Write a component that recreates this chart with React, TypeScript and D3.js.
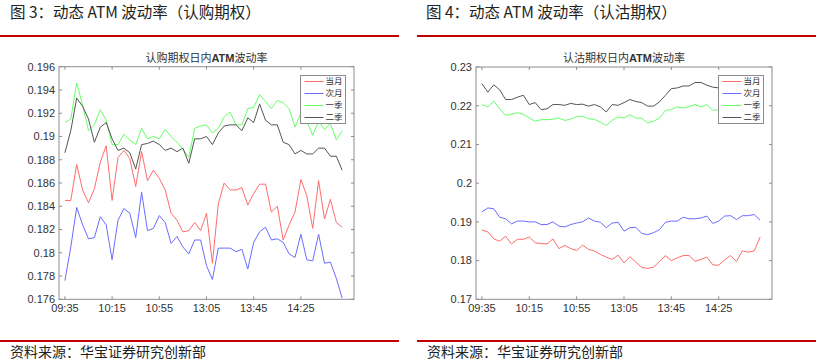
import React from "react";
import * as d3 from "d3";

const timeLabels = ["09:35", "10:15", "10:55", "13:05", "13:45", "14:25"];
const timeTickIdx = [0, 8, 16, 24, 32, 40];
const seriesNames = ["当月", "次月", "一季", "二季"];
const seriesColors = ["#ff6b6b", "#6b6bff", "#66ff66", "#555555"];

const callCur = [0.1845, 0.1845, 0.1876, 0.1854, 0.1843, 0.1855, 0.1878, 0.1892, 0.1845, 0.1882, 0.1888, 0.1881, 0.1857, 0.1887, 0.1862, 0.1871, 0.1864, 0.1854, 0.1834, 0.1828, 0.1818, 0.1819, 0.1826, 0.1819, 0.1834, 0.1791, 0.1842, 0.186, 0.1854, 0.1854, 0.1856, 0.1841, 0.1851, 0.1859, 0.1859, 0.1835, 0.184, 0.1811, 0.1824, 0.1835, 0.1863, 0.1849, 0.1821, 0.1862, 0.1829, 0.1846, 0.1826, 0.1822];
const callNext = [0.1776, 0.1805, 0.1839, 0.1824, 0.1812, 0.1813, 0.1831, 0.1824, 0.1794, 0.1828, 0.1838, 0.1834, 0.1813, 0.1852, 0.1819, 0.1821, 0.1832, 0.1826, 0.1808, 0.1814, 0.1805, 0.1799, 0.1811, 0.1811, 0.1789, 0.1777, 0.1804, 0.1804, 0.1804, 0.1801, 0.1803, 0.1786, 0.1809, 0.1818, 0.1822, 0.1811, 0.1812, 0.1809, 0.1799, 0.1796, 0.1816, 0.1794, 0.1793, 0.1816, 0.1791, 0.1792, 0.1778, 0.1761];
const callQ1 = [0.1912, 0.1915, 0.1946, 0.1927, 0.1905, 0.191, 0.1923, 0.1914, 0.1893, 0.1893, 0.1902, 0.1897, 0.1893, 0.1907, 0.1898, 0.19, 0.1898, 0.1906, 0.19, 0.1895, 0.1889, 0.1882, 0.1907, 0.1909, 0.191, 0.1903, 0.1907, 0.1917, 0.1921, 0.191, 0.191, 0.1924, 0.1925, 0.1936, 0.193, 0.1924, 0.1931, 0.1929, 0.1924, 0.1908, 0.192, 0.1913, 0.1901, 0.1913, 0.1906, 0.1911, 0.1897, 0.1905];
const callQ2 = [0.1886, 0.1905, 0.1933, 0.1926, 0.1915, 0.1895, 0.1908, 0.1912, 0.1898, 0.1888, 0.189, 0.1886, 0.1872, 0.1893, 0.1894, 0.1896, 0.1893, 0.1888, 0.189, 0.1887, 0.189, 0.1877, 0.1898, 0.1898, 0.19, 0.1893, 0.1903, 0.1909, 0.191, 0.191, 0.1905, 0.1916, 0.1912, 0.1928, 0.1914, 0.191, 0.191, 0.1895, 0.1893, 0.1885, 0.1888, 0.1885, 0.1885, 0.189, 0.189, 0.1883, 0.1883, 0.1871];

const putCur = [0.1879, 0.1874, 0.1856, 0.185, 0.1863, 0.1843, 0.1855, 0.1855, 0.1861, 0.1846, 0.1844, 0.1843, 0.1856, 0.1831, 0.1839, 0.1831, 0.1826, 0.184, 0.1829, 0.1825, 0.1816, 0.1809, 0.1803, 0.1814, 0.1794, 0.181, 0.1796, 0.1782, 0.178, 0.1783, 0.1798, 0.1813, 0.18, 0.1807, 0.1813, 0.1813, 0.1798, 0.1803, 0.1809, 0.1789, 0.1788, 0.1802, 0.1813, 0.1798, 0.1825, 0.1822, 0.1825, 0.1861];
const putNext = [0.1926, 0.1936, 0.1934, 0.1912, 0.1908, 0.1895, 0.1902, 0.1902, 0.19, 0.19, 0.1893, 0.1893, 0.19, 0.1889, 0.1887, 0.1893, 0.1897, 0.19, 0.191, 0.1902, 0.1899, 0.1885, 0.1897, 0.1899, 0.1876, 0.1885, 0.1886, 0.187, 0.1867, 0.1872, 0.188, 0.1899, 0.1902, 0.1902, 0.1912, 0.1908, 0.1908, 0.191, 0.1915, 0.1896, 0.1902, 0.1915, 0.1916, 0.1906, 0.1916, 0.1916, 0.1919, 0.1904];
const putQ1 = [0.2203, 0.2197, 0.2212, 0.2192, 0.2175, 0.2178, 0.2182, 0.2178, 0.2168, 0.216, 0.2164, 0.2164, 0.2165, 0.2168, 0.2162, 0.2165, 0.2172, 0.2173, 0.2166, 0.2165, 0.2158, 0.2149, 0.2162, 0.2171, 0.2168, 0.2177, 0.2168, 0.2168, 0.2155, 0.216, 0.2168, 0.2188, 0.219, 0.2197, 0.2194, 0.2198, 0.2203, 0.2197, 0.2203, 0.2188, 0.219, 0.2192, 0.2196, 0.2193, 0.2197, 0.2198, 0.2195, 0.2196];
const putQ2 = [0.2257, 0.2235, 0.2254, 0.2241, 0.2216, 0.2216, 0.2222, 0.2227, 0.2203, 0.2208, 0.219, 0.2192, 0.2203, 0.2203, 0.2201, 0.2206, 0.2203, 0.2204, 0.2199, 0.2203, 0.2197, 0.2184, 0.2203, 0.2201, 0.2208, 0.2216, 0.2211, 0.2208, 0.2199, 0.2199, 0.221, 0.2227, 0.2244, 0.2246, 0.2251, 0.2251, 0.226, 0.226, 0.2253, 0.2248, 0.2246, 0.2248, 0.2252, 0.225, 0.2255, 0.2258, 0.2254, 0.2252];

const callTicks = [0.176, 0.178, 0.18, 0.182, 0.184, 0.186, 0.188, 0.19, 0.192, 0.194, 0.196];
const putTicks = [0.17, 0.18, 0.19, 0.2, 0.21, 0.22, 0.23];

type PanelProps = {
  x0: number; x1: number; y0: number; y1: number;
  domain: [number, number]; ticks: number[];
  series: number[][]; title: string; titleRest: string;
  legendX: number;
};

function Panel(p: PanelProps) {
  const x = d3.scaleLinear().domain([-1, 49]).range([p.x0, p.x1]);
  const y = d3.scaleLinear().domain(p.domain).range([p.y1, p.y0]);
  const line = d3.line<number>().x((_, i) => x(i)).y((v) => y(v));
  const axisColor = "#8c8c8c";
  const tickLen = 3;
  const legendY = 75.5;
  const legendW = 45;
  const legendH = 48;
  const step = 12;
  return (
    <g>
      <clipPath id={"clip" + p.x0}>
        <rect x={p.x0} y={p.y0} width={p.x1 - p.x0} height={p.y1 - p.y0} />
      </clipPath>
      <g clipPath={`url(#clip${p.x0})`}>
        {p.series.map((s, k) => (
          <path key={k} d={line(s) || ""} fill="none" stroke={seriesColors[k]} strokeWidth={1} />
        ))}
      </g>
      <rect x={p.x0} y={p.y0} width={p.x1 - p.x0} height={p.y1 - p.y0} fill="none" stroke={axisColor} strokeWidth={1} />
      {p.ticks.map((t, i) => (
        <g key={"y" + i}>
          <line x1={p.x0} x2={p.x0 + tickLen} y1={y(t)} y2={y(t)} stroke={axisColor} />
          <line x1={p.x1} x2={p.x1 - tickLen} y1={y(t)} y2={y(t)} stroke={axisColor} />
          <text x={p.x0 - 4} y={y(t)} dy="0.35em" textAnchor="end" fontSize={11} fill="#333" fontFamily="Liberation Sans, Arial, sans-serif">{String(t)}</text>
        </g>
      ))}
      {timeTickIdx.map((t, i) => (
        <g key={"x" + i}>
          <line x1={x(t)} x2={x(t)} y1={p.y1} y2={p.y1 - tickLen} stroke={axisColor} />
          <line x1={x(t)} x2={x(t)} y1={p.y0} y2={p.y0 + tickLen} stroke={axisColor} />
          <text x={x(t)} y={p.y1 + 13} textAnchor="middle" fontSize={11} fill="#333" fontFamily="Liberation Sans, Arial, sans-serif">{timeLabels[i]}</text>
        </g>
      ))}
      <text x={(p.x0 + p.x1) / 2} y={p.y0 - 5} textAnchor="middle" fontSize={11} fill="#333" fontFamily="Noto Sans CJK SC, sans-serif">
        {p.title}<tspan fontWeight="bold" fontFamily="Liberation Sans, Arial, sans-serif">ATM</tspan>{p.titleRest}
      </text>
      <rect x={p.legendX} y={legendY} width={legendW} height={legendH} fill="#fff" stroke={axisColor} strokeWidth={1} />
      {seriesNames.map((n, k) => (
        <g key={"l" + k}>
          <line x1={p.legendX + 4} x2={p.legendX + 23} y1={legendY + 6 + k * step} y2={legendY + 6 + k * step} stroke={seriesColors[k]} />
          <text x={p.legendX + 25} y={legendY + 6 + k * step} dy="0.35em" fontSize={8.5} fill="#333" fontFamily="Noto Sans CJK SC, sans-serif">{n}</text>
        </g>
      ))}
    </g>
  );
}

export default function App() {
  const headFont = "Noto Sans CJK SC, sans-serif";
  return (
    <svg width={816} height={363} style={{ position: "absolute", left: 0, top: 0, background: "#fff" }}>
      <rect width={816} height={363} fill="#fff" />
      <text x={10} y={18} fontSize={15.5} fill="#222" fontFamily={headFont}>图 3：动态 ATM 波动率（认购期权）</text>
      <text x={426} y={18} fontSize={15.5} fill="#222" fontFamily={headFont}>图 4：动态 ATM 波动率（认沽期权）</text>
      <rect x={0} y={35} width={399} height={2} fill="#c00000" />
      <rect x={417} y={35} width={399} height={2} fill="#c00000" />
      <Panel x0={59} x1={354} y0={66.7} y1={299.3} domain={[0.176, 0.196]} ticks={callTicks}
        series={[callCur, callNext, callQ1, callQ2]} title="认购期权日内" titleRest="波动率" legendX={300.5} />
      <Panel x0={476} x1={772} y0={67} y1={299.3} domain={[0.17, 0.23]} ticks={putTicks}
        series={[putCur, putNext, putQ1, putQ2]} title="认沽期权日内" titleRest="波动率" legendX={718.5} />
      <rect x={0} y={340} width={399} height={2} fill="#c00000" />
      <rect x={417} y={340} width={399} height={2} fill="#c00000" />
      <text x={10} y={357} fontSize={14} fill="#222" fontFamily={headFont}>资料来源：华宝证券研究创新部</text>
      <text x={427} y={357} fontSize={14} fill="#222" fontFamily={headFont}>资料来源：华宝证券研究创新部</text>
    </svg>
  );
}
